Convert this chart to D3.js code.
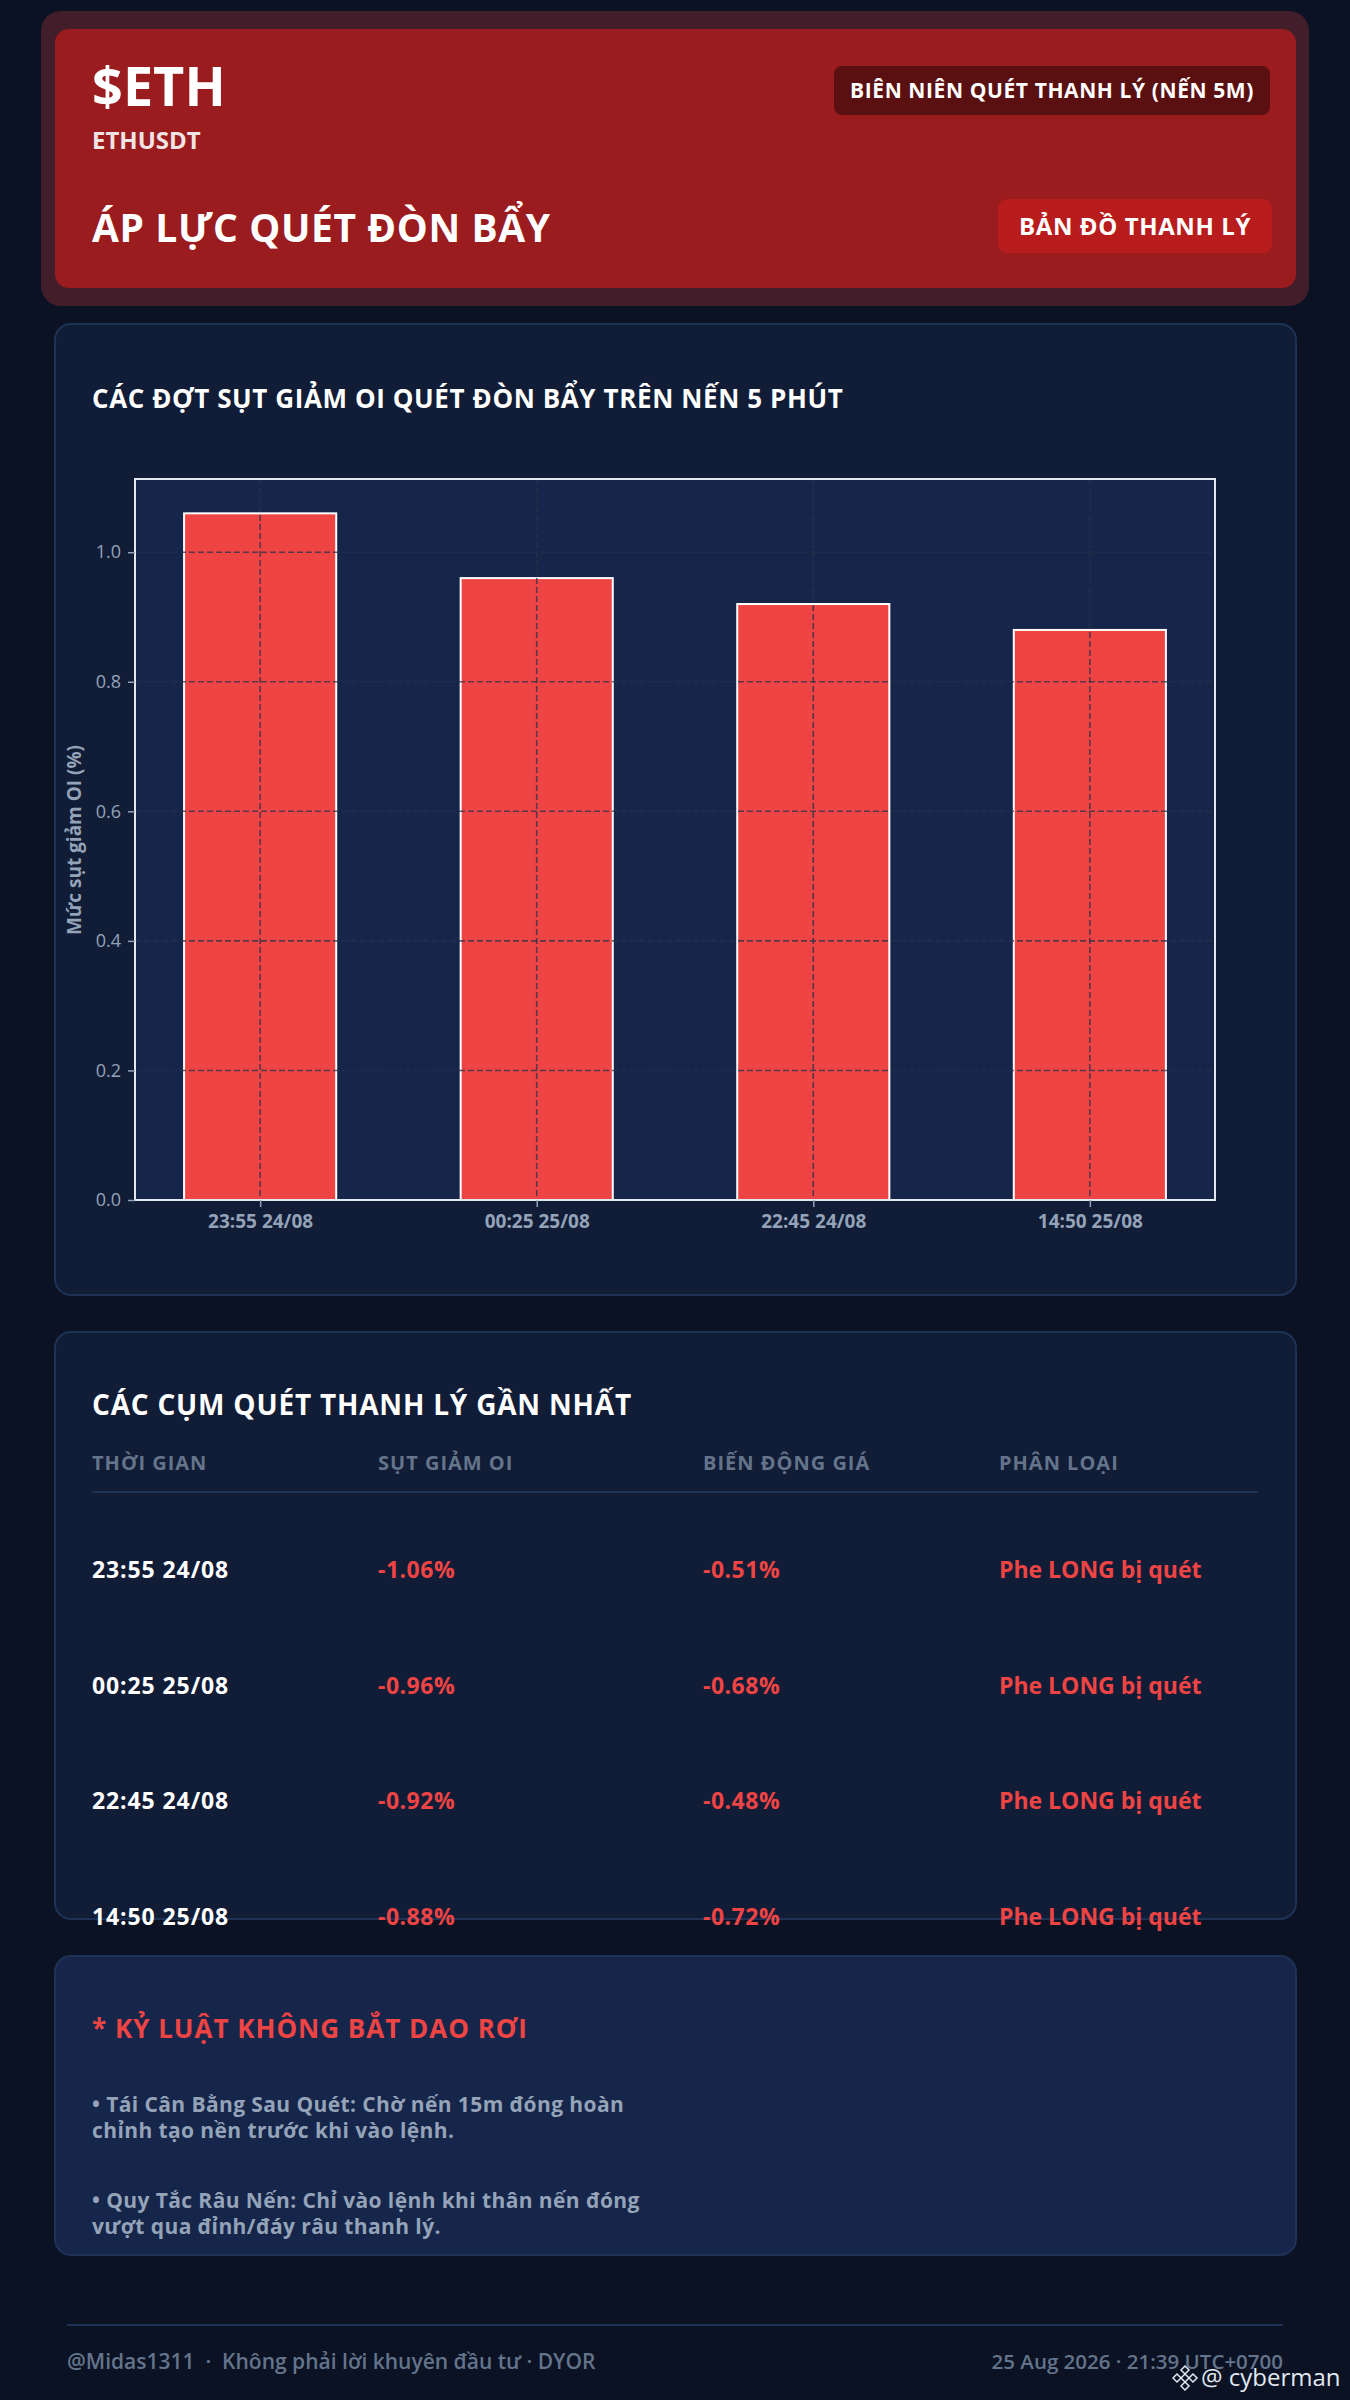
<!DOCTYPE html>
<html>
<head>
<meta charset="utf-8">
<script src="https://cdn.jsdelivr.net/npm/d3@7"></script>
<style>
  body { margin: 0; background: #0a1224; }
  svg { display: block; font-family: "Open Sans", "Noto Sans", sans-serif; }
</style>
</head>
<body>
<svg id="page" width="1350" height="2400"></svg>
<script>
// chart data
var times = ["23:55 24/08", "00:25 25/08", "22:45 24/08", "14:50 25/08"];
var oiDrop = [1.06, 0.96, 0.92, 0.88];
var priceMove = [-0.51, -0.68, -0.48, -0.72];
var sides = ["Phe LONG bị quét", "Phe LONG bị quét", "Phe LONG bị quét", "Phe LONG bị quét"];
var yTicks = [0.0, 0.2, 0.4, 0.6, 0.8, 1.0];
var headers = ["THỜI GIAN", "SỤT GIẢM OI", "BIẾN ĐỘNG GIÁ", "PHÂN LOẠI"];
var notes = [
  ["• Tái Cân Bằng Sau Quét: Chờ nến 15m đóng hoàn", "chỉnh tạo nền trước khi vào lệnh."],
  ["• Quy Tắc Râu Nến: Chỉ vào lệnh khi thân nến đóng", "vượt qua đỉnh/đáy râu thanh lý."]
];

var svg = d3.select("#page");

svg.append("rect").attr("width", 1350).attr("height", 2400).attr("fill", "#0a1224");

// ---- header ----
svg.append("rect")
  .attr("x", 41).attr("y", 11).attr("width", 1268).attr("height", 295)
  .attr("rx", 20).attr("fill", "#421e2b");
svg.append("rect")
  .attr("x", 55).attr("y", 29).attr("width", 1241).attr("height", 259)
  .attr("rx", 14).attr("fill", "#9b1c1f");

svg.append("text").attr("x", 92).attr("y", 106)
  .attr("font-size", 54).attr("font-weight", 700).attr("fill", "#ffffff").text("$ETH");
svg.append("text").attr("x", 92).attr("y", 149)
  .attr("font-size", 24).attr("font-weight", 700).attr("fill", "#f1e4e4").text("ETHUSDT");
svg.append("text").attr("x", 92).attr("y", 242)
  .attr("font-size", 39).attr("font-weight", 700).attr("letter-spacing", 0.6)
  .attr("fill", "#ffffff").text("ÁP LỰC QUÉT ĐÒN BẨY");

svg.append("rect").attr("x", 834).attr("y", 66).attr("width", 436).attr("height", 49)
  .attr("rx", 8).attr("fill", "#5a1010");
svg.append("text").attr("x", 1052).attr("y", 98).attr("text-anchor", "middle")
  .attr("font-size", 21).attr("font-weight", 700).attr("letter-spacing", 0.6).attr("fill", "#ffffff")
  .text("BIÊN NIÊN QUÉT THANH LÝ (NẾN 5M)");

svg.append("rect").attr("x", 998).attr("y", 199).attr("width", 274).attr("height", 54)
  .attr("rx", 9).attr("fill", "#b91c1c");
svg.append("text").attr("x", 1135).attr("y", 235).attr("text-anchor", "middle")
  .attr("font-size", 24).attr("font-weight", 700).attr("letter-spacing", 0.6).attr("fill", "#ffffff")
  .text("BẢN ĐỒ THANH LÝ");

// ---- chart card ----
svg.append("rect").attr("x", 55).attr("y", 324).attr("width", 1241).attr("height", 971)
  .attr("rx", 16).attr("fill", "#111c37").attr("stroke", "#1e3256").attr("stroke-width", 2);
svg.append("text").attr("x", 92).attr("y", 408)
  .attr("font-size", 26).attr("font-weight", 700).attr("letter-spacing", 0.6).attr("fill", "#ffffff")
  .text("CÁC ĐỢT SỤT GIẢM OI QUÉT ĐÒN BẨY TRÊN NẾN 5 PHÚT");

var plot = { left: 135, right: 1215, top: 479, bottom: 1200 };
var x = d3.scaleLinear().domain([-0.4525, times.length - 1 + 0.4525]).range([plot.left, plot.right]);
var y = d3.scaleLinear().domain([0, 1.113]).range([plot.bottom, plot.top]);
var barW = x(0.55) - x(0);

svg.append("rect").attr("x", plot.left).attr("y", plot.top)
  .attr("width", plot.right - plot.left).attr("height", plot.bottom - plot.top)
  .attr("fill", "#16254a");

svg.selectAll(".bar")
  .data(oiDrop)
  .enter()
  .append("rect")
  .attr("class", "bar")
  .attr("x", function(d, i) { return x(i) - barW / 2; })
  .attr("y", function(d) { return y(d); })
  .attr("width", barW)
  .attr("height", function(d) { return y(0) - y(d); })
  .attr("fill", "#ef4444")
  .attr("stroke", "#ffffff")
  .attr("stroke-width", 2);

// grid on top of the bars
var grid = svg.append("g");
grid.selectAll(".gy")
  .data(yTicks.slice(1))
  .enter()
  .append("line")
  .attr("x1", plot.left).attr("x2", plot.right)
  .attr("y1", function(d) { return y(d); })
  .attr("y2", function(d) { return y(d); })
  .attr("stroke", "#27314a").attr("stroke-opacity", 0.75)
  .attr("stroke-width", 1.6).attr("stroke-dasharray", "6,3");
grid.selectAll(".gx")
  .data(times)
  .enter()
  .append("line")
  .attr("x1", function(d, i) { return x(i); })
  .attr("x2", function(d, i) { return x(i); })
  .attr("y1", plot.top).attr("y2", plot.bottom)
  .attr("stroke", "#27314a").attr("stroke-opacity", 0.75)
  .attr("stroke-width", 1.6).attr("stroke-dasharray", "6,3");

svg.append("rect").attr("x", plot.left).attr("y", plot.top)
  .attr("width", plot.right - plot.left).attr("height", plot.bottom - plot.top)
  .attr("fill", "none").attr("stroke", "#e2e8f0").attr("stroke-width", 2);

var yAxis = svg.append("g")
  .attr("transform", "translate(" + plot.left + ",0)")
  .call(d3.axisLeft(y).tickValues(yTicks).tickFormat(d3.format(".1f")).tickSize(7).tickPadding(7));
yAxis.select(".domain").remove();
yAxis.selectAll("line").attr("stroke", "#94a3b8").attr("stroke-width", 1.5);
yAxis.selectAll("text").attr("fill", "#94a3b8").attr("font-size", 18)
  .attr("font-family", "Open Sans").attr("font-weight", 400);

var xAxis = svg.append("g")
  .attr("transform", "translate(0," + plot.bottom + ")")
  .call(d3.axisBottom(x).tickValues(d3.range(times.length))
    .tickFormat(function(i) { return times[i]; }).tickSize(7).tickPadding(8));
xAxis.select(".domain").remove();
xAxis.selectAll("line").attr("stroke", "#94a3b8").attr("stroke-width", 1.5);
xAxis.selectAll("text").attr("fill", "#94a3b8").attr("font-size", 19)
  .attr("font-family", "Open Sans").attr("font-weight", 700);

svg.append("text")
  .attr("transform", "translate(81,840) rotate(-90)")
  .attr("text-anchor", "middle")
  .attr("font-size", 19).attr("font-weight", 700).attr("fill", "#94a3b8")
  .text("Mức sụt giảm OI (%)");

// ---- table card ----
svg.append("rect").attr("x", 55).attr("y", 1332).attr("width", 1241).attr("height", 587)
  .attr("rx", 16).attr("fill", "#111c37").attr("stroke", "#1e3256").attr("stroke-width", 2);
svg.append("text").attr("x", 92).attr("y", 1415)
  .attr("font-size", 28).attr("font-weight", 700).attr("letter-spacing", 0.8).attr("fill", "#ffffff")
  .text("CÁC CỤM QUÉT THANH LÝ GẦN NHẤT");

var colX = [92, 378, 703, 999];
svg.selectAll(".hd")
  .data(headers)
  .enter()
  .append("text")
  .attr("x", function(d, i) { return colX[i]; })
  .attr("y", 1470)
  .attr("font-size", 20).attr("font-weight", 700).attr("letter-spacing", 1).attr("fill", "#64748b")
  .text(function(d) { return d; });
svg.append("line").attr("x1", 92).attr("x2", 1258).attr("y1", 1492).attr("y2", 1492)
  .attr("stroke", "#1e3256").attr("stroke-width", 2);

var rowY = d3.scaleLinear().domain([0, 1]).range([1578, 1693.5]);
var rows = svg.selectAll(".row")
  .data(times)
  .enter()
  .append("g")
  .attr("transform", function(d, i) { return "translate(0," + rowY(i) + ")"; })
  .attr("font-size", 23).attr("font-weight", 700);
rows.append("text").attr("x", colX[0]).attr("letter-spacing", 0.9)
  .attr("fill", "#ffffff").text(function(d) { return d; });
rows.append("text").attr("x", colX[1]).attr("letter-spacing", 0.5).attr("fill", "#ef4444")
  .text(function(d, i) { return "-" + oiDrop[i].toFixed(2) + "%"; });
rows.append("text").attr("x", colX[2]).attr("letter-spacing", 0.5).attr("fill", "#ef4444")
  .text(function(d, i) { return priceMove[i].toFixed(2) + "%"; });
rows.append("text").attr("x", colX[3]).attr("fill", "#ef4444")
  .text(function(d, i) { return sides[i]; });

// ---- notes card ----
svg.append("rect").attr("x", 55).attr("y", 1956).attr("width", 1241).attr("height", 299)
  .attr("rx", 16).attr("fill", "#16254a").attr("stroke", "#1e3256").attr("stroke-width", 2);
svg.append("text").attr("x", 92).attr("y", 2038)
  .attr("font-size", 26).attr("font-weight", 700).attr("letter-spacing", 1).attr("fill", "#ef4444")
  .text("* KỶ LUẬT KHÔNG BẮT DAO RƠI");

var noteG = svg.selectAll(".note")
  .data(notes)
  .enter()
  .append("text")
  .attr("font-size", 21).attr("font-weight", 700).attr("letter-spacing", 0.4).attr("fill", "#94a3b8");
noteG.selectAll("tspan")
  .data(function(d, i) { return d.map(function(t, j) { return { t: t, y: 2112 + i * 96 + j * 26 }; }); })
  .enter()
  .append("tspan")
  .attr("x", 92)
  .attr("y", function(d) { return d.y; })
  .text(function(d) { return d.t; });

// ---- footer ----
svg.append("line").attr("x1", 67).attr("x2", 1283).attr("y1", 2325).attr("y2", 2325)
  .attr("stroke", "#1e3256").attr("stroke-width", 2);
svg.append("text").attr("x", 67).attr("y", 2369)
  .style("white-space", "pre")
  .attr("font-size", 21).attr("font-weight", 600).attr("fill", "#64748b")
  .text("@Midas1311  ·  Không phải lời khuyên đầu tư · DYOR");
svg.append("text").attr("x", 1283).attr("y", 2369).attr("text-anchor", "end")
  .attr("font-size", 20.5).attr("font-weight", 600).attr("fill", "#64748b")
  .text("25 Aug 2026 · 21:39 UTC+0700");

// watermark
var wm = svg.append("g").attr("transform", "translate(1185,2382)");
[[0, -12], [-8, -4], [8, -4], [0, 4], [0, -4]].forEach(function(p) {
  wm.append("path")
    .attr("d", "M" + p[0] + "," + (p[1] - 4) + "l4,4l-4,4l-4,-4z")
    .attr("fill", "none").attr("stroke", "#e2e8f0").attr("stroke-width", 1.5);
});
wm.append("text").attr("x", 16).attr("y", 4)
  .attr("font-size", 24).attr("fill", "#e2e8f0").text("@ cyberman");
</script>
</body>
</html>
